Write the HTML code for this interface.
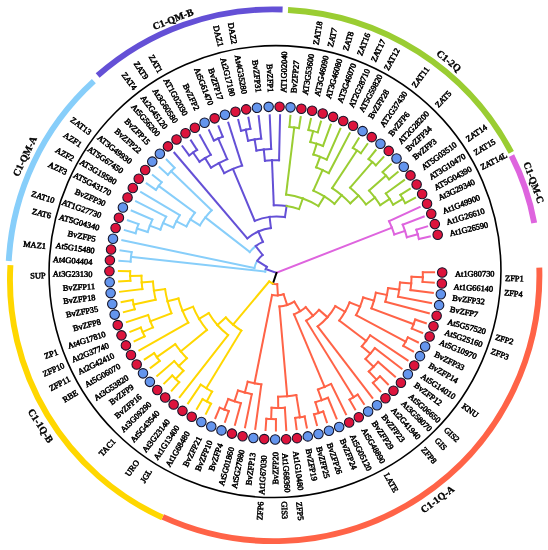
<!DOCTYPE html><html><head><meta charset="utf-8"><style>html,body{margin:0;padding:0;background:#fff;}svg{display:block;}</style></head><body><svg xmlns="http://www.w3.org/2000/svg" width="548" height="550" viewBox="0 0 548 550">
<rect width="548" height="550" fill="#fff"/>
<path d="M539.29,267.57 A265.8,265.8 0 0 1 162.76,516.89" fill="none" stroke="#ff6347" stroke-width="5.9"/>
<path d="M162.48,517.51 A260.49,260.49 0 0 1 10.42,265.08" fill="none" stroke="#ffd700" stroke-width="5.9"/>
<path d="M8.76,260.99 A262.0,262.0 0 0 1 93.84,81.13" fill="none" stroke="#87cefa" stroke-width="5.9"/>
<path d="M97.66,75.54 A264.2,264.2 0 0 1 282.59,9.55" fill="none" stroke="#6450d6" stroke-width="5.9"/>
<path d="M288.01,10.03 A268.9,268.9 0 0 1 511.27,152.34" fill="none" stroke="#9acd32" stroke-width="5.9"/>
<path d="M511.50,155.65 A243.9,243.9 0 0 1 534.21,223.00" fill="none" stroke="#de64de" stroke-width="5.9"/>
<ellipse cx="275.0" cy="271.6" rx="226.5" ry="225.4" transform="rotate(-45 275.0 271.6)" fill="none" stroke="#000" stroke-width="1.6"/>
<g stroke-linecap="square"><line x1="276.41" y1="272.77" x2="265.78" y2="269.08" stroke="#6450d6" stroke-width="2.0"/><path d="M265.78,269.08 A11.35,11.35 0 0 0 265.22,271.56" fill="none" stroke="#87cefa" stroke-width="2.0"/><line x1="265.22" y1="271.56" x2="131.03" y2="256.80" stroke="#87cefa" stroke-width="2.0"/><path d="M131.03,256.80 A146.35,146.35 0 0 0 130.58,261.59" fill="none" stroke="#87cefa" stroke-width="2.0"/><line x1="130.58" y1="261.59" x2="119.36" y2="260.73" stroke="#87cefa" stroke-width="2.0"/><path d="M131.03,256.80 A146.35,146.35 0 0 1 131.63,252.03" fill="none" stroke="#87cefa" stroke-width="2.0"/><line x1="131.63" y1="252.03" x2="120.50" y2="250.43" stroke="#87cefa" stroke-width="2.0"/><path d="M265.78,269.08 A11.35,11.35 0 0 1 266.87,266.79" fill="none" stroke="#6450d6" stroke-width="2.0"/><line x1="266.87" y1="266.79" x2="257.33" y2="260.82" stroke="#6450d6" stroke-width="2.0"/><path d="M257.33,260.82 A22.60,22.60 0 0 0 254.39,268.13" fill="none" stroke="#87cefa" stroke-width="2.0"/><line x1="254.39" y1="268.13" x2="122.30" y2="240.23" stroke="#87cefa" stroke-width="2.0"/><path d="M257.33,260.82 A22.60,22.60 0 0 1 262.61,254.97" fill="none" stroke="#6450d6" stroke-width="2.0"/><line x1="262.61" y1="254.97" x2="255.70" y2="246.10" stroke="#6450d6" stroke-width="2.0"/><path d="M255.70,246.10 A33.85,33.85 0 0 0 249.78,252.01" fill="none" stroke="#87cefa" stroke-width="2.0"/><line x1="249.78" y1="252.01" x2="205.39" y2="217.47" stroke="#87cefa" stroke-width="2.0"/><path d="M205.39,217.47 A90.10,90.10 0 0 0 199.94,225.29" fill="none" stroke="#87cefa" stroke-width="2.0"/><line x1="199.94" y1="225.29" x2="190.38" y2="219.36" stroke="#87cefa" stroke-width="2.0"/><path d="M190.38,219.36 A101.35,101.35 0 0 0 186.38,226.42" fill="none" stroke="#87cefa" stroke-width="2.0"/><line x1="186.38" y1="226.42" x2="176.38" y2="221.28" stroke="#87cefa" stroke-width="2.0"/><path d="M176.38,221.28 A112.60,112.60 0 0 0 173.40,227.54" fill="none" stroke="#87cefa" stroke-width="2.0"/><line x1="173.40" y1="227.54" x2="163.10" y2="223.02" stroke="#87cefa" stroke-width="2.0"/><path d="M163.10,223.02 A123.85,123.85 0 0 0 160.42,229.62" fill="none" stroke="#87cefa" stroke-width="2.0"/><line x1="160.42" y1="229.62" x2="149.88" y2="225.70" stroke="#87cefa" stroke-width="2.0"/><path d="M149.88,225.70 A135.10,135.10 0 0 0 147.71,232.00" fill="none" stroke="#87cefa" stroke-width="2.0"/><line x1="147.71" y1="232.00" x2="136.98" y2="228.60" stroke="#87cefa" stroke-width="2.0"/><path d="M136.98,228.60 A146.35,146.35 0 0 0 135.61,233.21" fill="none" stroke="#87cefa" stroke-width="2.0"/><line x1="135.61" y1="233.21" x2="124.78" y2="230.17" stroke="#87cefa" stroke-width="2.0"/><path d="M136.98,228.60 A146.35,146.35 0 0 1 138.51,224.04" fill="none" stroke="#87cefa" stroke-width="2.0"/><line x1="138.51" y1="224.04" x2="127.90" y2="220.29" stroke="#87cefa" stroke-width="2.0"/><path d="M149.88,225.70 A135.10,135.10 0 0 1 152.35,219.52" fill="none" stroke="#87cefa" stroke-width="2.0"/><line x1="152.35" y1="219.52" x2="131.68" y2="210.64" stroke="#87cefa" stroke-width="2.0"/><path d="M163.10,223.02 A123.85,123.85 0 0 1 166.15,216.58" fill="none" stroke="#87cefa" stroke-width="2.0"/><line x1="166.15" y1="216.58" x2="136.07" y2="201.26" stroke="#87cefa" stroke-width="2.0"/><path d="M176.38,221.28 A112.60,112.60 0 0 1 179.74,215.21" fill="none" stroke="#87cefa" stroke-width="2.0"/><line x1="179.74" y1="215.21" x2="141.08" y2="192.19" stroke="#87cefa" stroke-width="2.0"/><path d="M190.38,219.36 A101.35,101.35 0 0 1 194.94,212.64" fill="none" stroke="#87cefa" stroke-width="2.0"/><line x1="194.94" y1="212.64" x2="158.73" y2="185.92" stroke="#87cefa" stroke-width="2.0"/><path d="M158.73,185.92 A146.35,146.35 0 0 0 155.93,189.84" fill="none" stroke="#87cefa" stroke-width="2.0"/><line x1="155.93" y1="189.84" x2="146.67" y2="183.46" stroke="#87cefa" stroke-width="2.0"/><path d="M158.73,185.92 A146.35,146.35 0 0 1 161.64,182.10" fill="none" stroke="#87cefa" stroke-width="2.0"/><line x1="161.64" y1="182.10" x2="152.82" y2="175.13" stroke="#87cefa" stroke-width="2.0"/><path d="M205.39,217.47 A90.10,90.10 0 0 1 211.63,210.27" fill="none" stroke="#87cefa" stroke-width="2.0"/><line x1="211.63" y1="210.27" x2="171.13" y2="171.23" stroke="#87cefa" stroke-width="2.0"/><path d="M171.13,171.23 A146.35,146.35 0 0 0 167.85,174.75" fill="none" stroke="#87cefa" stroke-width="2.0"/><line x1="167.85" y1="174.75" x2="159.50" y2="167.21" stroke="#87cefa" stroke-width="2.0"/><path d="M171.13,171.23 A146.35,146.35 0 0 1 174.53,167.82" fill="none" stroke="#87cefa" stroke-width="2.0"/><line x1="174.53" y1="167.82" x2="166.69" y2="159.75" stroke="#87cefa" stroke-width="2.0"/><path d="M255.70,246.10 A33.85,33.85 0 0 1 262.88,241.81" fill="none" stroke="#6450d6" stroke-width="2.0"/><line x1="262.88" y1="241.81" x2="258.35" y2="231.51" stroke="#6450d6" stroke-width="2.0"/><path d="M258.35,231.51 A45.10,45.10 0 0 0 247.27,238.45" fill="none" stroke="#6450d6" stroke-width="2.0"/><line x1="247.27" y1="238.45" x2="174.36" y2="152.78" stroke="#6450d6" stroke-width="2.0"/><path d="M258.35,231.51 A45.10,45.10 0 0 1 270.95,228.04" fill="none" stroke="#6450d6" stroke-width="2.0"/><line x1="270.95" y1="228.04" x2="269.57" y2="216.88" stroke="#6450d6" stroke-width="2.0"/><path d="M269.57,216.88 A56.35,56.35 0 0 0 254.72,220.83" fill="none" stroke="#6450d6" stroke-width="2.0"/><line x1="254.72" y1="220.83" x2="232.97" y2="168.95" stroke="#6450d6" stroke-width="2.0"/><path d="M232.97,168.95 A112.60,112.60 0 0 0 224.18,173.09" fill="none" stroke="#6450d6" stroke-width="2.0"/><line x1="224.18" y1="173.09" x2="218.96" y2="163.13" stroke="#6450d6" stroke-width="2.0"/><path d="M218.96,163.13 A123.85,123.85 0 0 0 211.01,167.68" fill="none" stroke="#6450d6" stroke-width="2.0"/><line x1="211.01" y1="167.68" x2="205.06" y2="158.13" stroke="#6450d6" stroke-width="2.0"/><path d="M205.06,158.13 A135.10,135.10 0 0 0 199.49,161.79" fill="none" stroke="#6450d6" stroke-width="2.0"/><line x1="199.49" y1="161.79" x2="193.08" y2="152.55" stroke="#6450d6" stroke-width="2.0"/><path d="M193.08,152.55 A146.35,146.35 0 0 0 189.17,155.36" fill="none" stroke="#6450d6" stroke-width="2.0"/><line x1="189.17" y1="155.36" x2="182.46" y2="146.33" stroke="#6450d6" stroke-width="2.0"/><path d="M193.08,152.55 A146.35,146.35 0 0 1 197.08,149.87" fill="none" stroke="#6450d6" stroke-width="2.0"/><line x1="197.08" y1="149.87" x2="190.97" y2="140.43" stroke="#6450d6" stroke-width="2.0"/><path d="M205.06,158.13 A135.10,135.10 0 0 1 210.80,154.75" fill="none" stroke="#6450d6" stroke-width="2.0"/><line x1="210.80" y1="154.75" x2="199.86" y2="135.09" stroke="#6450d6" stroke-width="2.0"/><path d="M218.96,163.13 A123.85,123.85 0 0 1 227.22,159.18" fill="none" stroke="#6450d6" stroke-width="2.0"/><line x1="227.22" y1="159.18" x2="218.26" y2="138.54" stroke="#6450d6" stroke-width="2.0"/><path d="M218.26,138.54 A146.35,146.35 0 0 0 213.88,140.52" fill="none" stroke="#6450d6" stroke-width="2.0"/><line x1="213.88" y1="140.52" x2="209.07" y2="130.35" stroke="#6450d6" stroke-width="2.0"/><path d="M218.26,138.54 A146.35,146.35 0 0 1 222.71,136.69" fill="none" stroke="#6450d6" stroke-width="2.0"/><line x1="222.71" y1="136.69" x2="218.57" y2="126.23" stroke="#6450d6" stroke-width="2.0"/><path d="M232.97,168.95 A112.60,112.60 0 0 1 242.08,165.59" fill="none" stroke="#6450d6" stroke-width="2.0"/><line x1="242.08" y1="165.59" x2="228.33" y2="122.74" stroke="#6450d6" stroke-width="2.0"/><path d="M269.57,216.88 A56.35,56.35 0 0 1 284.94,217.09" fill="none" stroke="#6450d6" stroke-width="2.0"/><line x1="284.94" y1="217.09" x2="286.62" y2="205.96" stroke="#6450d6" stroke-width="2.0"/><path d="M286.62,205.96 A67.60,67.60 0 0 0 273.79,205.25" fill="none" stroke="#6450d6" stroke-width="2.0"/><line x1="273.79" y1="205.25" x2="271.99" y2="160.29" stroke="#6450d6" stroke-width="2.0"/><path d="M271.99,160.29 A112.60,112.60 0 0 0 264.94,160.80" fill="none" stroke="#6450d6" stroke-width="2.0"/><line x1="264.94" y1="160.80" x2="263.78" y2="149.60" stroke="#6450d6" stroke-width="2.0"/><path d="M263.78,149.60 A123.85,123.85 0 0 0 256.44,150.59" fill="none" stroke="#6450d6" stroke-width="2.0"/><line x1="256.44" y1="150.59" x2="254.62" y2="139.48" stroke="#6450d6" stroke-width="2.0"/><path d="M254.62,139.48 A135.10,135.10 0 0 0 248.07,140.72" fill="none" stroke="#6450d6" stroke-width="2.0"/><line x1="248.07" y1="140.72" x2="245.71" y2="129.73" stroke="#6450d6" stroke-width="2.0"/><path d="M245.71,129.73 A146.35,146.35 0 0 0 241.02,130.82" fill="none" stroke="#6450d6" stroke-width="2.0"/><line x1="241.02" y1="130.82" x2="238.29" y2="119.90" stroke="#6450d6" stroke-width="2.0"/><path d="M245.71,129.73 A146.35,146.35 0 0 1 250.43,128.79" fill="none" stroke="#6450d6" stroke-width="2.0"/><line x1="250.43" y1="128.79" x2="248.42" y2="117.72" stroke="#6450d6" stroke-width="2.0"/><path d="M254.62,139.48 A135.10,135.10 0 0 1 261.22,138.57" fill="none" stroke="#6450d6" stroke-width="2.0"/><line x1="261.22" y1="138.57" x2="258.67" y2="116.21" stroke="#6450d6" stroke-width="2.0"/><path d="M263.78,149.60 A123.85,123.85 0 0 1 271.17,149.06" fill="none" stroke="#6450d6" stroke-width="2.0"/><line x1="271.17" y1="149.06" x2="269.72" y2="115.35" stroke="#6450d6" stroke-width="2.0"/><path d="M271.99,160.29 A112.60,112.60 0 0 1 279.06,160.23" fill="none" stroke="#6450d6" stroke-width="2.0"/><line x1="279.06" y1="160.23" x2="280.08" y2="115.24" stroke="#6450d6" stroke-width="2.0"/><path d="M286.62,205.96 A67.60,67.60 0 0 1 299.09,209.09" fill="none" stroke="#9acd32" stroke-width="2.0"/><line x1="299.09" y1="209.09" x2="302.85" y2="198.48" stroke="#9acd32" stroke-width="2.0"/><path d="M302.85,198.48 A78.85,78.85 0 0 0 286.05,194.53" fill="none" stroke="#9acd32" stroke-width="2.0"/><line x1="286.05" y1="194.53" x2="294.22" y2="127.53" stroke="#9acd32" stroke-width="2.0"/><path d="M294.22,127.53 A146.35,146.35 0 0 0 289.43,127.02" fill="none" stroke="#9acd32" stroke-width="2.0"/><line x1="289.43" y1="127.02" x2="290.43" y2="115.82" stroke="#9acd32" stroke-width="2.0"/><path d="M294.22,127.53 A146.35,146.35 0 0 1 298.98,128.19" fill="none" stroke="#9acd32" stroke-width="2.0"/><line x1="298.98" y1="128.19" x2="300.71" y2="117.07" stroke="#9acd32" stroke-width="2.0"/><path d="M302.85,198.48 A78.85,78.85 0 0 1 318.39,206.00" fill="none" stroke="#9acd32" stroke-width="2.0"/><line x1="318.39" y1="206.00" x2="324.36" y2="196.46" stroke="#9acd32" stroke-width="2.0"/><path d="M324.36,196.46 A90.10,90.10 0 0 0 313.35,190.58" fill="none" stroke="#9acd32" stroke-width="2.0"/><line x1="313.35" y1="190.58" x2="322.55" y2="170.05" stroke="#9acd32" stroke-width="2.0"/><path d="M322.55,170.05 A112.60,112.60 0 0 0 316.13,167.41" fill="none" stroke="#9acd32" stroke-width="2.0"/><line x1="316.13" y1="167.41" x2="320.09" y2="156.88" stroke="#9acd32" stroke-width="2.0"/><path d="M320.09,156.88 A123.85,123.85 0 0 0 313.36,154.56" fill="none" stroke="#9acd32" stroke-width="2.0"/><line x1="313.36" y1="154.56" x2="316.70" y2="143.82" stroke="#9acd32" stroke-width="2.0"/><path d="M316.70,143.82 A135.10,135.10 0 0 0 310.30,142.00" fill="none" stroke="#9acd32" stroke-width="2.0"/><line x1="310.30" y1="142.00" x2="313.11" y2="131.10" stroke="#9acd32" stroke-width="2.0"/><path d="M313.11,131.10 A146.35,146.35 0 0 0 308.43,129.98" fill="none" stroke="#9acd32" stroke-width="2.0"/><line x1="308.43" y1="129.98" x2="310.89" y2="119.00" stroke="#9acd32" stroke-width="2.0"/><path d="M313.11,131.10 A146.35,146.35 0 0 1 317.75,132.38" fill="none" stroke="#9acd32" stroke-width="2.0"/><line x1="317.75" y1="132.38" x2="320.92" y2="121.59" stroke="#9acd32" stroke-width="2.0"/><path d="M316.70,143.82 A135.10,135.10 0 0 1 323.01,145.96" fill="none" stroke="#9acd32" stroke-width="2.0"/><line x1="323.01" y1="145.96" x2="330.76" y2="124.83" stroke="#9acd32" stroke-width="2.0"/><path d="M320.09,156.88 A123.85,123.85 0 0 1 326.69,159.57" fill="none" stroke="#9acd32" stroke-width="2.0"/><line x1="326.69" y1="159.57" x2="340.36" y2="128.72" stroke="#9acd32" stroke-width="2.0"/><path d="M322.55,170.05 A112.60,112.60 0 0 1 328.79,173.08" fill="none" stroke="#9acd32" stroke-width="2.0"/><line x1="328.79" y1="173.08" x2="349.69" y2="133.23" stroke="#9acd32" stroke-width="2.0"/><path d="M324.36,196.46 A90.10,90.10 0 0 1 334.46,203.81" fill="none" stroke="#9acd32" stroke-width="2.0"/><line x1="334.46" y1="203.81" x2="341.69" y2="195.20" stroke="#9acd32" stroke-width="2.0"/><path d="M341.69,195.20 A101.35,101.35 0 0 0 332.18,188.11" fill="none" stroke="#9acd32" stroke-width="2.0"/><line x1="332.18" y1="188.11" x2="356.90" y2="150.51" stroke="#9acd32" stroke-width="2.0"/><path d="M356.90,150.51 A146.35,146.35 0 0 0 352.84,147.94" fill="none" stroke="#9acd32" stroke-width="2.0"/><line x1="352.84" y1="147.94" x2="358.70" y2="138.34" stroke="#9acd32" stroke-width="2.0"/><path d="M356.90,150.51 A146.35,146.35 0 0 1 360.88,153.22" fill="none" stroke="#9acd32" stroke-width="2.0"/><line x1="360.88" y1="153.22" x2="367.36" y2="144.03" stroke="#9acd32" stroke-width="2.0"/><path d="M341.69,195.20 A101.35,101.35 0 0 1 350.31,203.35" fill="none" stroke="#9acd32" stroke-width="2.0"/><line x1="350.31" y1="203.35" x2="358.51" y2="195.64" stroke="#9acd32" stroke-width="2.0"/><path d="M358.51,195.64 A112.60,112.60 0 0 0 350.16,187.64" fill="none" stroke="#9acd32" stroke-width="2.0"/><line x1="350.16" y1="187.64" x2="372.24" y2="162.11" stroke="#9acd32" stroke-width="2.0"/><path d="M372.24,162.11 A146.35,146.35 0 0 0 368.55,159.02" fill="none" stroke="#9acd32" stroke-width="2.0"/><line x1="368.55" y1="159.02" x2="375.63" y2="150.28" stroke="#9acd32" stroke-width="2.0"/><path d="M372.24,162.11 A146.35,146.35 0 0 1 375.83,165.32" fill="none" stroke="#9acd32" stroke-width="2.0"/><line x1="375.83" y1="165.32" x2="383.46" y2="157.05" stroke="#9acd32" stroke-width="2.0"/><path d="M358.51,195.64 A112.60,112.60 0 0 1 365.99,204.46" fill="none" stroke="#9acd32" stroke-width="2.0"/><line x1="365.99" y1="204.46" x2="374.93" y2="197.63" stroke="#9acd32" stroke-width="2.0"/><path d="M374.93,197.63 A123.85,123.85 0 0 0 369.10,190.56" fill="none" stroke="#9acd32" stroke-width="2.0"/><line x1="369.10" y1="190.56" x2="385.93" y2="175.62" stroke="#9acd32" stroke-width="2.0"/><path d="M385.93,175.62 A146.35,146.35 0 0 0 382.67,172.08" fill="none" stroke="#9acd32" stroke-width="2.0"/><line x1="382.67" y1="172.08" x2="390.84" y2="164.33" stroke="#9acd32" stroke-width="2.0"/><path d="M385.93,175.62 A146.35,146.35 0 0 1 389.06,179.27" fill="none" stroke="#9acd32" stroke-width="2.0"/><line x1="389.06" y1="179.27" x2="397.71" y2="172.08" stroke="#9acd32" stroke-width="2.0"/><path d="M374.93,197.63 A123.85,123.85 0 0 1 380.21,205.11" fill="none" stroke="#9acd32" stroke-width="2.0"/><line x1="380.21" y1="205.11" x2="389.64" y2="198.96" stroke="#9acd32" stroke-width="2.0"/><path d="M389.64,198.96 A135.10,135.10 0 0 0 385.86,193.47" fill="none" stroke="#9acd32" stroke-width="2.0"/><line x1="385.86" y1="193.47" x2="404.07" y2="180.26" stroke="#9acd32" stroke-width="2.0"/><path d="M389.64,198.96 A135.10,135.10 0 0 1 393.14,204.63" fill="none" stroke="#9acd32" stroke-width="2.0"/><line x1="393.14" y1="204.63" x2="402.85" y2="198.95" stroke="#9acd32" stroke-width="2.0"/><path d="M402.85,198.95 A146.35,146.35 0 0 0 400.35,194.84" fill="none" stroke="#9acd32" stroke-width="2.0"/><line x1="400.35" y1="194.84" x2="409.87" y2="188.84" stroke="#9acd32" stroke-width="2.0"/><path d="M402.85,198.95 A146.35,146.35 0 0 1 405.21,203.14" fill="none" stroke="#9acd32" stroke-width="2.0"/><line x1="405.21" y1="203.14" x2="415.10" y2="197.79" stroke="#9acd32" stroke-width="2.0"/><line x1="276.59" y1="272.76" x2="391.84" y2="227.69" stroke="#de64de" stroke-width="2.0"/><path d="M391.84,227.69 A123.85,123.85 0 0 0 389.06,221.13" fill="none" stroke="#de64de" stroke-width="2.0"/><line x1="389.06" y1="221.13" x2="419.73" y2="207.06" stroke="#de64de" stroke-width="2.0"/><path d="M391.84,227.69 A123.85,123.85 0 0 1 394.25,234.40" fill="none" stroke="#de64de" stroke-width="2.0"/><line x1="394.25" y1="234.40" x2="404.94" y2="230.91" stroke="#de64de" stroke-width="2.0"/><path d="M404.94,230.91 A135.10,135.10 0 0 0 402.72,224.63" fill="none" stroke="#de64de" stroke-width="2.0"/><line x1="402.72" y1="224.63" x2="423.74" y2="216.61" stroke="#de64de" stroke-width="2.0"/><path d="M404.94,230.91 A135.10,135.10 0 0 1 406.85,237.29" fill="none" stroke="#de64de" stroke-width="2.0"/><line x1="406.85" y1="237.29" x2="417.71" y2="234.34" stroke="#de64de" stroke-width="2.0"/><path d="M417.71,234.34 A146.35,146.35 0 0 0 416.36,229.72" fill="none" stroke="#de64de" stroke-width="2.0"/><line x1="416.36" y1="229.72" x2="427.12" y2="226.40" stroke="#de64de" stroke-width="2.0"/><path d="M417.71,234.34 A146.35,146.35 0 0 1 418.89,239.00" fill="none" stroke="#de64de" stroke-width="2.0"/><line x1="418.89" y1="239.00" x2="429.84" y2="236.40" stroke="#de64de" stroke-width="2.0"/><line x1="276.47" y1="272.89" x2="272.95" y2="283.58" stroke="#000" stroke-width="2.0"/><path d="M272.95,283.58 A11.35,11.35 0 0 0 277.19,284.13" fill="none" stroke="#ff6347" stroke-width="2.0"/><line x1="277.19" y1="284.13" x2="277.88" y2="295.36" stroke="#ff6347" stroke-width="2.0"/><path d="M277.88,295.36 A22.60,22.60 0 0 0 283.59,294.26" fill="none" stroke="#ff6347" stroke-width="2.0"/><line x1="283.59" y1="294.26" x2="287.12" y2="304.94" stroke="#ff6347" stroke-width="2.0"/><path d="M287.12,304.94 A33.85,33.85 0 0 0 294.24,301.63" fill="none" stroke="#ff6347" stroke-width="2.0"/><line x1="294.24" y1="301.63" x2="300.14" y2="311.21" stroke="#ff6347" stroke-width="2.0"/><path d="M300.14,311.21 A45.10,45.10 0 0 0 305.71,307.16" fill="none" stroke="#ff6347" stroke-width="2.0"/><line x1="305.71" y1="307.16" x2="313.00" y2="315.73" stroke="#ff6347" stroke-width="2.0"/><path d="M313.00,315.73 A56.35,56.35 0 0 0 318.98,309.83" fill="none" stroke="#ff6347" stroke-width="2.0"/><line x1="318.98" y1="309.83" x2="327.46" y2="317.22" stroke="#ff6347" stroke-width="2.0"/><path d="M327.46,317.22 A67.60,67.60 0 0 0 335.27,306.21" fill="none" stroke="#ff6347" stroke-width="2.0"/><line x1="335.27" y1="306.21" x2="345.05" y2="311.76" stroke="#ff6347" stroke-width="2.0"/><path d="M345.05,311.76 A78.85,78.85 0 0 0 349.61,302.33" fill="none" stroke="#ff6347" stroke-width="2.0"/><line x1="349.61" y1="302.33" x2="360.04" y2="306.54" stroke="#ff6347" stroke-width="2.0"/><path d="M360.04,306.54 A90.10,90.10 0 0 0 363.14,297.53" fill="none" stroke="#ff6347" stroke-width="2.0"/><line x1="363.14" y1="297.53" x2="373.96" y2="300.61" stroke="#ff6347" stroke-width="2.0"/><path d="M373.96,300.61 A101.35,101.35 0 0 0 375.87,292.72" fill="none" stroke="#ff6347" stroke-width="2.0"/><line x1="375.87" y1="292.72" x2="386.90" y2="294.94" stroke="#ff6347" stroke-width="2.0"/><path d="M386.90,294.94 A112.60,112.60 0 0 0 388.06,288.09" fill="none" stroke="#ff6347" stroke-width="2.0"/><line x1="388.06" y1="288.09" x2="399.20" y2="289.62" stroke="#ff6347" stroke-width="2.0"/><path d="M399.20,289.62 A123.85,123.85 0 0 0 399.97,282.54" fill="none" stroke="#ff6347" stroke-width="2.0"/><line x1="399.97" y1="282.54" x2="411.18" y2="283.42" stroke="#ff6347" stroke-width="2.0"/><path d="M411.18,283.42 A135.10,135.10 0 0 0 411.54,276.77" fill="none" stroke="#ff6347" stroke-width="2.0"/><line x1="411.54" y1="276.77" x2="422.79" y2="277.10" stroke="#ff6347" stroke-width="2.0"/><path d="M422.79,277.10 A146.35,146.35 0 0 0 422.85,272.29" fill="none" stroke="#ff6347" stroke-width="2.0"/><line x1="422.85" y1="272.29" x2="434.10" y2="272.25" stroke="#ff6347" stroke-width="2.0"/><path d="M422.79,277.10 A146.35,146.35 0 0 1 422.57,281.91" fill="none" stroke="#ff6347" stroke-width="2.0"/><line x1="422.57" y1="281.91" x2="433.79" y2="282.61" stroke="#ff6347" stroke-width="2.0"/><path d="M411.18,283.42 A135.10,135.10 0 0 1 410.49,290.05" fill="none" stroke="#ff6347" stroke-width="2.0"/><line x1="410.49" y1="290.05" x2="432.81" y2="292.92" stroke="#ff6347" stroke-width="2.0"/><path d="M399.20,289.62 A123.85,123.85 0 0 1 398.03,296.65" fill="none" stroke="#ff6347" stroke-width="2.0"/><line x1="398.03" y1="296.65" x2="431.15" y2="303.15" stroke="#ff6347" stroke-width="2.0"/><path d="M386.90,294.94 A112.60,112.60 0 0 1 385.33,301.69" fill="none" stroke="#ff6347" stroke-width="2.0"/><line x1="385.33" y1="301.69" x2="428.82" y2="313.24" stroke="#ff6347" stroke-width="2.0"/><path d="M373.96,300.61 A101.35,101.35 0 0 1 371.42,308.33" fill="none" stroke="#ff6347" stroke-width="2.0"/><line x1="371.42" y1="308.33" x2="413.56" y2="324.10" stroke="#ff6347" stroke-width="2.0"/><path d="M413.56,324.10 A146.35,146.35 0 0 0 415.18,319.57" fill="none" stroke="#ff6347" stroke-width="2.0"/><line x1="415.18" y1="319.57" x2="425.84" y2="323.16" stroke="#ff6347" stroke-width="2.0"/><path d="M413.56,324.10 A146.35,146.35 0 0 1 411.80,328.58" fill="none" stroke="#ff6347" stroke-width="2.0"/><line x1="411.80" y1="328.58" x2="422.20" y2="332.87" stroke="#ff6347" stroke-width="2.0"/><path d="M360.04,306.54 A90.10,90.10 0 0 1 356.01,315.17" fill="none" stroke="#ff6347" stroke-width="2.0"/><line x1="356.01" y1="315.17" x2="405.65" y2="341.63" stroke="#ff6347" stroke-width="2.0"/><path d="M405.65,341.63 A146.35,146.35 0 0 0 407.85,337.35" fill="none" stroke="#ff6347" stroke-width="2.0"/><line x1="407.85" y1="337.35" x2="417.94" y2="342.31" stroke="#ff6347" stroke-width="2.0"/><path d="M405.65,341.63 A146.35,146.35 0 0 1 403.32,345.84" fill="none" stroke="#ff6347" stroke-width="2.0"/><line x1="403.32" y1="345.84" x2="413.07" y2="351.45" stroke="#ff6347" stroke-width="2.0"/><path d="M345.05,311.76 A78.85,78.85 0 0 1 339.28,320.51" fill="none" stroke="#ff6347" stroke-width="2.0"/><line x1="339.28" y1="320.51" x2="366.15" y2="340.94" stroke="#ff6347" stroke-width="2.0"/><path d="M366.15,340.94 A112.60,112.60 0 0 0 370.17,335.28" fill="none" stroke="#ff6347" stroke-width="2.0"/><line x1="370.17" y1="335.28" x2="407.61" y2="360.26" stroke="#ff6347" stroke-width="2.0"/><path d="M366.15,340.94 A112.60,112.60 0 0 1 361.78,346.33" fill="none" stroke="#ff6347" stroke-width="2.0"/><line x1="361.78" y1="346.33" x2="370.30" y2="353.67" stroke="#ff6347" stroke-width="2.0"/><path d="M370.30,353.67 A123.85,123.85 0 0 0 374.79,348.15" fill="none" stroke="#ff6347" stroke-width="2.0"/><line x1="374.79" y1="348.15" x2="401.58" y2="368.68" stroke="#ff6347" stroke-width="2.0"/><path d="M370.30,353.67 A123.85,123.85 0 0 1 365.49,358.93" fill="none" stroke="#ff6347" stroke-width="2.0"/><line x1="365.49" y1="358.93" x2="373.58" y2="366.76" stroke="#ff6347" stroke-width="2.0"/><path d="M373.58,366.76 A135.10,135.10 0 0 0 378.09,361.86" fill="none" stroke="#ff6347" stroke-width="2.0"/><line x1="378.09" y1="361.86" x2="395.01" y2="376.69" stroke="#ff6347" stroke-width="2.0"/><path d="M373.58,366.76 A135.10,135.10 0 0 1 368.83,371.43" fill="none" stroke="#ff6347" stroke-width="2.0"/><line x1="368.83" y1="371.43" x2="376.52" y2="379.64" stroke="#ff6347" stroke-width="2.0"/><path d="M376.52,379.64 A146.35,146.35 0 0 0 379.97,376.30" fill="none" stroke="#ff6347" stroke-width="2.0"/><line x1="379.97" y1="376.30" x2="387.93" y2="384.25" stroke="#ff6347" stroke-width="2.0"/><path d="M376.52,379.64 A146.35,146.35 0 0 1 372.95,382.87" fill="none" stroke="#ff6347" stroke-width="2.0"/><line x1="372.95" y1="382.87" x2="380.36" y2="391.33" stroke="#ff6347" stroke-width="2.0"/><path d="M327.46,317.22 A67.60,67.60 0 0 1 317.61,326.46" fill="none" stroke="#ff6347" stroke-width="2.0"/><line x1="317.61" y1="326.46" x2="372.35" y2="397.90" stroke="#ff6347" stroke-width="2.0"/><path d="M313.00,315.73 A56.35,56.35 0 0 1 306.20,320.69" fill="none" stroke="#ff6347" stroke-width="2.0"/><line x1="306.20" y1="320.69" x2="353.64" y2="397.17" stroke="#ff6347" stroke-width="2.0"/><path d="M353.64,397.17 A146.35,146.35 0 0 0 357.68,394.57" fill="none" stroke="#ff6347" stroke-width="2.0"/><line x1="357.68" y1="394.57" x2="363.92" y2="403.93" stroke="#ff6347" stroke-width="2.0"/><path d="M353.64,397.17 A146.35,146.35 0 0 1 349.51,399.64" fill="none" stroke="#ff6347" stroke-width="2.0"/><line x1="349.51" y1="399.64" x2="355.12" y2="409.39" stroke="#ff6347" stroke-width="2.0"/><path d="M300.14,311.21 A45.10,45.10 0 0 1 294.02,314.36" fill="none" stroke="#ff6347" stroke-width="2.0"/><line x1="294.02" y1="314.36" x2="324.62" y2="386.92" stroke="#ff6347" stroke-width="2.0"/><path d="M324.62,386.92 A123.85,123.85 0 0 0 331.10,383.97" fill="none" stroke="#ff6347" stroke-width="2.0"/><line x1="331.10" y1="383.97" x2="345.98" y2="414.26" stroke="#ff6347" stroke-width="2.0"/><path d="M324.62,386.92 A123.85,123.85 0 0 1 317.97,389.50" fill="none" stroke="#ff6347" stroke-width="2.0"/><line x1="317.97" y1="389.50" x2="321.74" y2="400.10" stroke="#ff6347" stroke-width="2.0"/><path d="M321.74,400.10 A135.10,135.10 0 0 0 327.96,397.72" fill="none" stroke="#ff6347" stroke-width="2.0"/><line x1="327.96" y1="397.72" x2="336.53" y2="418.52" stroke="#ff6347" stroke-width="2.0"/><path d="M321.74,400.10 A135.10,135.10 0 0 1 315.41,402.18" fill="none" stroke="#ff6347" stroke-width="2.0"/><line x1="315.41" y1="402.18" x2="318.65" y2="412.95" stroke="#ff6347" stroke-width="2.0"/><path d="M318.65,412.95 A146.35,146.35 0 0 0 323.23,411.49" fill="none" stroke="#ff6347" stroke-width="2.0"/><line x1="323.23" y1="411.49" x2="326.83" y2="422.15" stroke="#ff6347" stroke-width="2.0"/><path d="M318.65,412.95 A146.35,146.35 0 0 1 314.02,414.26" fill="none" stroke="#ff6347" stroke-width="2.0"/><line x1="314.02" y1="414.26" x2="316.91" y2="425.13" stroke="#ff6347" stroke-width="2.0"/><path d="M287.12,304.94 A33.85,33.85 0 0 1 279.43,306.52" fill="none" stroke="#ff6347" stroke-width="2.0"/><line x1="279.43" y1="306.52" x2="287.22" y2="396.18" stroke="#ff6347" stroke-width="2.0"/><path d="M287.22,396.18 A123.85,123.85 0 0 0 296.31,395.06" fill="none" stroke="#ff6347" stroke-width="2.0"/><line x1="296.31" y1="395.06" x2="299.91" y2="417.27" stroke="#ff6347" stroke-width="2.0"/><path d="M299.91,417.27 A146.35,146.35 0 0 0 304.65,416.42" fill="none" stroke="#ff6347" stroke-width="2.0"/><line x1="304.65" y1="416.42" x2="306.81" y2="427.46" stroke="#ff6347" stroke-width="2.0"/><path d="M299.91,417.27 A146.35,146.35 0 0 1 295.15,417.96" fill="none" stroke="#ff6347" stroke-width="2.0"/><line x1="295.15" y1="417.96" x2="296.58" y2="429.12" stroke="#ff6347" stroke-width="2.0"/><path d="M287.22,396.18 A123.85,123.85 0 0 1 278.07,396.64" fill="none" stroke="#ff6347" stroke-width="2.0"/><line x1="278.07" y1="396.64" x2="278.22" y2="407.89" stroke="#ff6347" stroke-width="2.0"/><path d="M278.22,407.89 A135.10,135.10 0 0 0 284.87,407.64" fill="none" stroke="#ff6347" stroke-width="2.0"/><line x1="284.87" y1="407.64" x2="286.27" y2="430.10" stroke="#ff6347" stroke-width="2.0"/><path d="M278.22,407.89 A135.10,135.10 0 0 1 271.56,407.81" fill="none" stroke="#ff6347" stroke-width="2.0"/><line x1="271.56" y1="407.81" x2="271.15" y2="419.05" stroke="#ff6347" stroke-width="2.0"/><path d="M271.15,419.05 A146.35,146.35 0 0 0 275.96,419.15" fill="none" stroke="#ff6347" stroke-width="2.0"/><line x1="275.96" y1="419.15" x2="275.91" y2="430.40" stroke="#ff6347" stroke-width="2.0"/><path d="M271.15,419.05 A146.35,146.35 0 0 1 266.34,418.80" fill="none" stroke="#ff6347" stroke-width="2.0"/><line x1="266.34" y1="418.80" x2="265.56" y2="430.02" stroke="#ff6347" stroke-width="2.0"/><path d="M277.88,295.36 A22.60,22.60 0 0 1 272.08,294.96" fill="none" stroke="#ff6347" stroke-width="2.0"/><line x1="272.08" y1="294.96" x2="254.48" y2="383.23" stroke="#ff6347" stroke-width="2.0"/><path d="M254.48,383.23 A112.60,112.60 0 0 0 261.32,384.37" fill="none" stroke="#ff6347" stroke-width="2.0"/><line x1="261.32" y1="384.37" x2="255.25" y2="428.96" stroke="#ff6347" stroke-width="2.0"/><path d="M254.48,383.23 A112.60,112.60 0 0 1 247.72,381.66" fill="none" stroke="#ff6347" stroke-width="2.0"/><line x1="247.72" y1="381.66" x2="244.84" y2="392.53" stroke="#ff6347" stroke-width="2.0"/><path d="M244.84,392.53 A123.85,123.85 0 0 0 251.78,394.16" fill="none" stroke="#ff6347" stroke-width="2.0"/><line x1="251.78" y1="394.16" x2="245.04" y2="427.23" stroke="#ff6347" stroke-width="2.0"/><path d="M244.84,392.53 A123.85,123.85 0 0 1 238.01,390.52" fill="none" stroke="#ff6347" stroke-width="2.0"/><line x1="238.01" y1="390.52" x2="234.51" y2="401.21" stroke="#ff6347" stroke-width="2.0"/><path d="M234.51,401.21 A135.10,135.10 0 0 0 240.89,403.12" fill="none" stroke="#ff6347" stroke-width="2.0"/><line x1="240.89" y1="403.12" x2="234.96" y2="424.83" stroke="#ff6347" stroke-width="2.0"/><path d="M234.51,401.21 A135.10,135.10 0 0 1 228.23,398.98" fill="none" stroke="#ff6347" stroke-width="2.0"/><line x1="228.23" y1="398.98" x2="224.21" y2="409.49" stroke="#ff6347" stroke-width="2.0"/><path d="M224.21,409.49 A146.35,146.35 0 0 0 228.73,411.14" fill="none" stroke="#ff6347" stroke-width="2.0"/><line x1="228.73" y1="411.14" x2="225.06" y2="421.77" stroke="#ff6347" stroke-width="2.0"/><path d="M224.21,409.49 A146.35,146.35 0 0 1 219.75,407.70" fill="none" stroke="#ff6347" stroke-width="2.0"/><line x1="219.75" y1="407.70" x2="215.39" y2="418.07" stroke="#ff6347" stroke-width="2.0"/><path d="M272.95,283.58 A11.35,11.35 0 0 1 269.21,281.50" fill="none" stroke="#ffd700" stroke-width="2.0"/><line x1="269.21" y1="281.50" x2="233.11" y2="324.64" stroke="#ffd700" stroke-width="2.0"/><path d="M233.11,324.64 A67.60,67.60 0 0 0 241.39,330.57" fill="none" stroke="#ffd700" stroke-width="2.0"/><line x1="241.39" y1="330.57" x2="206.33" y2="388.25" stroke="#ffd700" stroke-width="2.0"/><path d="M206.33,388.25 A135.10,135.10 0 0 0 212.10,391.57" fill="none" stroke="#ffd700" stroke-width="2.0"/><line x1="212.10" y1="391.57" x2="206.74" y2="401.45" stroke="#ffd700" stroke-width="2.0"/><path d="M206.74,401.45 A146.35,146.35 0 0 0 211.01,403.68" fill="none" stroke="#ffd700" stroke-width="2.0"/><line x1="211.01" y1="403.68" x2="205.97" y2="413.74" stroke="#ffd700" stroke-width="2.0"/><path d="M206.74,401.45 A146.35,146.35 0 0 1 202.55,399.09" fill="none" stroke="#ffd700" stroke-width="2.0"/><line x1="202.55" y1="399.09" x2="196.87" y2="408.80" stroke="#ffd700" stroke-width="2.0"/><path d="M206.33,388.25 A135.10,135.10 0 0 1 200.72,384.65" fill="none" stroke="#ffd700" stroke-width="2.0"/><line x1="200.72" y1="384.65" x2="188.10" y2="403.27" stroke="#ffd700" stroke-width="2.0"/><path d="M233.11,324.64 A67.60,67.60 0 0 1 225.82,317.53" fill="none" stroke="#ffd700" stroke-width="2.0"/><line x1="225.82" y1="317.53" x2="217.38" y2="324.98" stroke="#ffd700" stroke-width="2.0"/><path d="M217.38,324.98 A78.85,78.85 0 0 0 228.08,335.03" fill="none" stroke="#ffd700" stroke-width="2.0"/><line x1="228.08" y1="335.03" x2="179.72" y2="397.18" stroke="#ffd700" stroke-width="2.0"/><path d="M217.38,324.98 A78.85,78.85 0 0 1 208.73,313.11" fill="none" stroke="#ffd700" stroke-width="2.0"/><line x1="208.73" y1="313.11" x2="199.07" y2="318.86" stroke="#ffd700" stroke-width="2.0"/><path d="M199.07,318.86 A90.10,90.10 0 0 0 206.88,329.99" fill="none" stroke="#ffd700" stroke-width="2.0"/><line x1="206.88" y1="329.99" x2="180.80" y2="351.41" stroke="#ffd700" stroke-width="2.0"/><path d="M180.80,351.41 A123.85,123.85 0 0 0 186.87,358.27" fill="none" stroke="#ffd700" stroke-width="2.0"/><line x1="186.87" y1="358.27" x2="178.73" y2="366.03" stroke="#ffd700" stroke-width="2.0"/><path d="M178.73,366.03 A135.10,135.10 0 0 0 183.44,370.74" fill="none" stroke="#ffd700" stroke-width="2.0"/><line x1="183.44" y1="370.74" x2="175.69" y2="378.90" stroke="#ffd700" stroke-width="2.0"/><path d="M175.69,378.90 A146.35,146.35 0 0 0 179.23,382.15" fill="none" stroke="#ffd700" stroke-width="2.0"/><line x1="179.23" y1="382.15" x2="171.76" y2="390.56" stroke="#ffd700" stroke-width="2.0"/><path d="M175.69,378.90 A146.35,146.35 0 0 1 172.26,375.52" fill="none" stroke="#ffd700" stroke-width="2.0"/><line x1="172.26" y1="375.52" x2="164.25" y2="383.42" stroke="#ffd700" stroke-width="2.0"/><path d="M178.73,366.03 A135.10,135.10 0 0 1 174.25,361.10" fill="none" stroke="#ffd700" stroke-width="2.0"/><line x1="174.25" y1="361.10" x2="157.22" y2="375.81" stroke="#ffd700" stroke-width="2.0"/><path d="M180.80,351.41 A123.85,123.85 0 0 1 175.25,344.12" fill="none" stroke="#ffd700" stroke-width="2.0"/><line x1="175.25" y1="344.12" x2="156.86" y2="357.08" stroke="#ffd700" stroke-width="2.0"/><path d="M156.86,357.08 A146.35,146.35 0 0 0 159.69,360.97" fill="none" stroke="#ffd700" stroke-width="2.0"/><line x1="159.69" y1="360.97" x2="150.71" y2="367.75" stroke="#ffd700" stroke-width="2.0"/><path d="M156.86,357.08 A146.35,146.35 0 0 1 154.15,353.10" fill="none" stroke="#ffd700" stroke-width="2.0"/><line x1="154.15" y1="353.10" x2="144.74" y2="359.28" stroke="#ffd700" stroke-width="2.0"/><path d="M199.07,318.86 A90.10,90.10 0 0 1 193.02,306.69" fill="none" stroke="#ffd700" stroke-width="2.0"/><line x1="193.02" y1="306.69" x2="182.59" y2="310.92" stroke="#ffd700" stroke-width="2.0"/><path d="M182.59,310.92 A101.35,101.35 0 0 0 188.30,322.72" fill="none" stroke="#ffd700" stroke-width="2.0"/><line x1="188.30" y1="322.72" x2="139.35" y2="350.43" stroke="#ffd700" stroke-width="2.0"/><path d="M182.59,310.92 A101.35,101.35 0 0 1 178.46,298.48" fill="none" stroke="#ffd700" stroke-width="2.0"/><line x1="178.46" y1="298.48" x2="167.57" y2="301.33" stroke="#ffd700" stroke-width="2.0"/><path d="M167.57,301.33 A112.60,112.60 0 0 0 171.40,313.22" fill="none" stroke="#ffd700" stroke-width="2.0"/><line x1="171.40" y1="313.22" x2="150.40" y2="321.29" stroke="#ffd700" stroke-width="2.0"/><path d="M150.40,321.29 A135.10,135.10 0 0 0 152.95,327.45" fill="none" stroke="#ffd700" stroke-width="2.0"/><line x1="152.95" y1="327.45" x2="142.66" y2="332.00" stroke="#ffd700" stroke-width="2.0"/><path d="M142.66,332.00 A146.35,146.35 0 0 0 144.68,336.37" fill="none" stroke="#ffd700" stroke-width="2.0"/><line x1="144.68" y1="336.37" x2="134.54" y2="341.25" stroke="#ffd700" stroke-width="2.0"/><path d="M142.66,332.00 A146.35,146.35 0 0 1 140.78,327.57" fill="none" stroke="#ffd700" stroke-width="2.0"/><line x1="140.78" y1="327.57" x2="130.35" y2="331.78" stroke="#ffd700" stroke-width="2.0"/><path d="M150.40,321.29 A135.10,135.10 0 0 1 148.17,315.02" fill="none" stroke="#ffd700" stroke-width="2.0"/><line x1="148.17" y1="315.02" x2="126.79" y2="322.05" stroke="#ffd700" stroke-width="2.0"/><path d="M167.57,301.33 A112.60,112.60 0 0 1 165.09,289.10" fill="none" stroke="#ffd700" stroke-width="2.0"/><line x1="165.09" y1="289.10" x2="153.95" y2="290.72" stroke="#ffd700" stroke-width="2.0"/><path d="M153.95,290.72 A123.85,123.85 0 0 0 155.61,299.73" fill="none" stroke="#ffd700" stroke-width="2.0"/><line x1="155.61" y1="299.73" x2="133.65" y2="304.62" stroke="#ffd700" stroke-width="2.0"/><path d="M133.65,304.62 A146.35,146.35 0 0 0 134.78,309.30" fill="none" stroke="#ffd700" stroke-width="2.0"/><line x1="134.78" y1="309.30" x2="123.88" y2="312.11" stroke="#ffd700" stroke-width="2.0"/><path d="M133.65,304.62 A146.35,146.35 0 0 1 132.68,299.91" fill="none" stroke="#ffd700" stroke-width="2.0"/><line x1="132.68" y1="299.91" x2="121.63" y2="302.00" stroke="#ffd700" stroke-width="2.0"/><path d="M153.95,290.72 A123.85,123.85 0 0 1 152.96,281.62" fill="none" stroke="#ffd700" stroke-width="2.0"/><line x1="152.96" y1="281.62" x2="141.74" y2="282.42" stroke="#ffd700" stroke-width="2.0"/><path d="M141.74,282.42 A135.10,135.10 0 0 0 142.38,289.05" fill="none" stroke="#ffd700" stroke-width="2.0"/><line x1="142.38" y1="289.05" x2="120.04" y2="291.76" stroke="#ffd700" stroke-width="2.0"/><path d="M141.74,282.42 A135.10,135.10 0 0 1 141.43,275.77" fill="none" stroke="#ffd700" stroke-width="2.0"/><line x1="141.43" y1="275.77" x2="130.19" y2="276.01" stroke="#ffd700" stroke-width="2.0"/><path d="M130.19,276.01 A146.35,146.35 0 0 0 130.37,280.82" fill="none" stroke="#ffd700" stroke-width="2.0"/><line x1="130.37" y1="280.82" x2="119.14" y2="281.44" stroke="#ffd700" stroke-width="2.0"/><path d="M130.19,276.01 A146.35,146.35 0 0 1 130.16,271.20" fill="none" stroke="#ffd700" stroke-width="2.0"/><line x1="130.16" y1="271.20" x2="118.91" y2="271.08" stroke="#ffd700" stroke-width="2.0"/></g>
<circle cx="268.64" cy="106.85" r="4.75" fill="#6495ed" stroke="#14142a" stroke-width="1.05"/>
<circle cx="279.58" cy="106.74" r="4.75" fill="#dc143c" stroke="#14142a" stroke-width="1.05"/>
<circle cx="290.50" cy="107.35" r="4.75" fill="#6495ed" stroke="#14142a" stroke-width="1.05"/>
<circle cx="301.36" cy="108.68" r="4.75" fill="#dc143c" stroke="#14142a" stroke-width="1.05"/>
<circle cx="312.11" cy="110.71" r="4.75" fill="#dc143c" stroke="#14142a" stroke-width="1.05"/>
<circle cx="322.70" cy="113.45" r="4.75" fill="#dc143c" stroke="#14142a" stroke-width="1.05"/>
<circle cx="333.09" cy="116.87" r="4.75" fill="#dc143c" stroke="#14142a" stroke-width="1.05"/>
<circle cx="343.23" cy="120.97" r="4.75" fill="#dc143c" stroke="#14142a" stroke-width="1.05"/>
<circle cx="353.08" cy="125.73" r="4.75" fill="#dc143c" stroke="#14142a" stroke-width="1.05"/>
<circle cx="362.59" cy="131.13" r="4.75" fill="#6495ed" stroke="#14142a" stroke-width="1.05"/>
<circle cx="371.73" cy="137.14" r="4.75" fill="#dc143c" stroke="#14142a" stroke-width="1.05"/>
<circle cx="380.46" cy="143.74" r="4.75" fill="#6495ed" stroke="#14142a" stroke-width="1.05"/>
<circle cx="388.73" cy="150.89" r="4.75" fill="#dc143c" stroke="#14142a" stroke-width="1.05"/>
<circle cx="396.52" cy="158.58" r="4.75" fill="#6495ed" stroke="#14142a" stroke-width="1.05"/>
<circle cx="403.78" cy="166.75" r="4.75" fill="#6495ed" stroke="#14142a" stroke-width="1.05"/>
<circle cx="410.49" cy="175.39" r="4.75" fill="#dc143c" stroke="#14142a" stroke-width="1.05"/>
<circle cx="416.62" cy="184.45" r="4.75" fill="#dc143c" stroke="#14142a" stroke-width="1.05"/>
<circle cx="422.14" cy="193.90" r="4.75" fill="#dc143c" stroke="#14142a" stroke-width="1.05"/>
<circle cx="427.03" cy="203.68" r="4.75" fill="#dc143c" stroke="#14142a" stroke-width="1.05"/>
<circle cx="431.26" cy="213.77" r="4.75" fill="#dc143c" stroke="#14142a" stroke-width="1.05"/>
<circle cx="434.83" cy="224.11" r="4.75" fill="#dc143c" stroke="#14142a" stroke-width="1.05"/>
<circle cx="437.70" cy="234.67" r="4.75" fill="#dc143c" stroke="#14142a" stroke-width="1.05"/>
<circle cx="442.20" cy="272.52" r="4.75" fill="#dc143c" stroke="#14142a" stroke-width="1.05"/>
<circle cx="441.88" cy="283.45" r="4.75" fill="#dc143c" stroke="#14142a" stroke-width="1.05"/>
<circle cx="440.84" cy="294.34" r="4.75" fill="#6495ed" stroke="#14142a" stroke-width="1.05"/>
<circle cx="439.09" cy="305.14" r="4.75" fill="#6495ed" stroke="#14142a" stroke-width="1.05"/>
<circle cx="436.63" cy="315.80" r="4.75" fill="#dc143c" stroke="#14142a" stroke-width="1.05"/>
<circle cx="433.47" cy="326.28" r="4.75" fill="#dc143c" stroke="#14142a" stroke-width="1.05"/>
<circle cx="429.64" cy="336.52" r="4.75" fill="#dc143c" stroke="#14142a" stroke-width="1.05"/>
<circle cx="425.14" cy="346.49" r="4.75" fill="#6495ed" stroke="#14142a" stroke-width="1.05"/>
<circle cx="420.00" cy="356.14" r="4.75" fill="#6495ed" stroke="#14142a" stroke-width="1.05"/>
<circle cx="414.23" cy="365.44" r="4.75" fill="#dc143c" stroke="#14142a" stroke-width="1.05"/>
<circle cx="407.86" cy="374.33" r="4.75" fill="#6495ed" stroke="#14142a" stroke-width="1.05"/>
<circle cx="400.93" cy="382.79" r="4.75" fill="#dc143c" stroke="#14142a" stroke-width="1.05"/>
<circle cx="393.45" cy="390.78" r="4.75" fill="#dc143c" stroke="#14142a" stroke-width="1.05"/>
<circle cx="385.46" cy="398.25" r="4.75" fill="#dc143c" stroke="#14142a" stroke-width="1.05"/>
<circle cx="377.00" cy="405.19" r="4.75" fill="#6495ed" stroke="#14142a" stroke-width="1.05"/>
<circle cx="368.11" cy="411.55" r="4.75" fill="#6495ed" stroke="#14142a" stroke-width="1.05"/>
<circle cx="358.81" cy="417.32" r="4.75" fill="#dc143c" stroke="#14142a" stroke-width="1.05"/>
<circle cx="349.16" cy="422.46" r="4.75" fill="#dc143c" stroke="#14142a" stroke-width="1.05"/>
<circle cx="339.18" cy="426.96" r="4.75" fill="#6495ed" stroke="#14142a" stroke-width="1.05"/>
<circle cx="328.94" cy="430.79" r="4.75" fill="#6495ed" stroke="#14142a" stroke-width="1.05"/>
<circle cx="318.46" cy="433.94" r="4.75" fill="#6495ed" stroke="#14142a" stroke-width="1.05"/>
<circle cx="307.80" cy="436.39" r="4.75" fill="#6495ed" stroke="#14142a" stroke-width="1.05"/>
<circle cx="297.00" cy="438.14" r="4.75" fill="#dc143c" stroke="#14142a" stroke-width="1.05"/>
<circle cx="286.12" cy="439.18" r="4.75" fill="#dc143c" stroke="#14142a" stroke-width="1.05"/>
<circle cx="275.18" cy="439.50" r="4.75" fill="#6495ed" stroke="#14142a" stroke-width="1.05"/>
<circle cx="264.25" cy="439.10" r="4.75" fill="#dc143c" stroke="#14142a" stroke-width="1.05"/>
<circle cx="253.37" cy="437.98" r="4.75" fill="#6495ed" stroke="#14142a" stroke-width="1.05"/>
<circle cx="242.58" cy="436.15" r="4.75" fill="#dc143c" stroke="#14142a" stroke-width="1.05"/>
<circle cx="231.94" cy="433.62" r="4.75" fill="#dc143c" stroke="#14142a" stroke-width="1.05"/>
<circle cx="221.49" cy="430.39" r="4.75" fill="#6495ed" stroke="#14142a" stroke-width="1.05"/>
<circle cx="211.27" cy="426.48" r="4.75" fill="#6495ed" stroke="#14142a" stroke-width="1.05"/>
<circle cx="201.34" cy="421.91" r="4.75" fill="#6495ed" stroke="#14142a" stroke-width="1.05"/>
<circle cx="191.72" cy="416.69" r="4.75" fill="#dc143c" stroke="#14142a" stroke-width="1.05"/>
<circle cx="182.47" cy="410.86" r="4.75" fill="#dc143c" stroke="#14142a" stroke-width="1.05"/>
<circle cx="173.62" cy="404.43" r="4.75" fill="#dc143c" stroke="#14142a" stroke-width="1.05"/>
<circle cx="165.21" cy="397.43" r="4.75" fill="#dc143c" stroke="#14142a" stroke-width="1.05"/>
<circle cx="157.28" cy="389.90" r="4.75" fill="#dc143c" stroke="#14142a" stroke-width="1.05"/>
<circle cx="149.86" cy="381.86" r="4.75" fill="#6495ed" stroke="#14142a" stroke-width="1.05"/>
<circle cx="142.99" cy="373.35" r="4.75" fill="#6495ed" stroke="#14142a" stroke-width="1.05"/>
<circle cx="136.69" cy="364.41" r="4.75" fill="#dc143c" stroke="#14142a" stroke-width="1.05"/>
<circle cx="130.99" cy="355.07" r="4.75" fill="#dc143c" stroke="#14142a" stroke-width="1.05"/>
<circle cx="125.92" cy="345.38" r="4.75" fill="#dc143c" stroke="#14142a" stroke-width="1.05"/>
<circle cx="121.49" cy="335.37" r="4.75" fill="#dc143c" stroke="#14142a" stroke-width="1.05"/>
<circle cx="117.73" cy="325.10" r="4.75" fill="#dc143c" stroke="#14142a" stroke-width="1.05"/>
<circle cx="114.66" cy="314.60" r="4.75" fill="#6495ed" stroke="#14142a" stroke-width="1.05"/>
<circle cx="112.28" cy="303.93" r="4.75" fill="#6495ed" stroke="#14142a" stroke-width="1.05"/>
<circle cx="110.61" cy="293.11" r="4.75" fill="#6495ed" stroke="#14142a" stroke-width="1.05"/>
<circle cx="109.65" cy="282.22" r="4.75" fill="#6495ed" stroke="#14142a" stroke-width="1.05"/>
<circle cx="109.41" cy="271.28" r="4.75" fill="#dc143c" stroke="#14142a" stroke-width="1.05"/>
<circle cx="109.89" cy="260.35" r="4.75" fill="#dc143c" stroke="#14142a" stroke-width="1.05"/>
<circle cx="111.08" cy="249.48" r="4.75" fill="#dc143c" stroke="#14142a" stroke-width="1.05"/>
<circle cx="112.99" cy="238.71" r="4.75" fill="#6495ed" stroke="#14142a" stroke-width="1.05"/>
<circle cx="115.60" cy="228.09" r="4.75" fill="#dc143c" stroke="#14142a" stroke-width="1.05"/>
<circle cx="118.91" cy="217.66" r="4.75" fill="#dc143c" stroke="#14142a" stroke-width="1.05"/>
<circle cx="122.89" cy="207.47" r="4.75" fill="#6495ed" stroke="#14142a" stroke-width="1.05"/>
<circle cx="127.53" cy="197.57" r="4.75" fill="#dc143c" stroke="#14142a" stroke-width="1.05"/>
<circle cx="132.81" cy="187.99" r="4.75" fill="#dc143c" stroke="#14142a" stroke-width="1.05"/>
<circle cx="138.72" cy="178.78" r="4.75" fill="#dc143c" stroke="#14142a" stroke-width="1.05"/>
<circle cx="145.21" cy="169.97" r="4.75" fill="#dc143c" stroke="#14142a" stroke-width="1.05"/>
<circle cx="152.27" cy="161.62" r="4.75" fill="#6495ed" stroke="#14142a" stroke-width="1.05"/>
<circle cx="159.86" cy="153.74" r="4.75" fill="#6495ed" stroke="#14142a" stroke-width="1.05"/>
<circle cx="167.95" cy="146.38" r="4.75" fill="#dc143c" stroke="#14142a" stroke-width="1.05"/>
<circle cx="176.51" cy="139.57" r="4.75" fill="#dc143c" stroke="#14142a" stroke-width="1.05"/>
<circle cx="185.50" cy="133.33" r="4.75" fill="#dc143c" stroke="#14142a" stroke-width="1.05"/>
<circle cx="194.88" cy="127.70" r="4.75" fill="#dc143c" stroke="#14142a" stroke-width="1.05"/>
<circle cx="204.60" cy="122.70" r="4.75" fill="#6495ed" stroke="#14142a" stroke-width="1.05"/>
<circle cx="214.64" cy="118.35" r="4.75" fill="#dc143c" stroke="#14142a" stroke-width="1.05"/>
<circle cx="224.94" cy="114.66" r="4.75" fill="#6495ed" stroke="#14142a" stroke-width="1.05"/>
<circle cx="235.46" cy="111.66" r="4.75" fill="#dc143c" stroke="#14142a" stroke-width="1.05"/>
<circle cx="246.15" cy="109.36" r="4.75" fill="#dc143c" stroke="#14142a" stroke-width="1.05"/>
<circle cx="256.98" cy="107.77" r="4.75" fill="#6495ed" stroke="#14142a" stroke-width="1.05"/>
<g font-family="Liberation Serif, serif" fill="#000" stroke="#000" stroke-width="0.55">
<text transform="translate(270.20 78.10) rotate(447.54) scale(1.01 1)" text-anchor="middle" dy="0.34em" font-size="8.3">BvZFP1</text>
<text transform="translate(283.90 72.10) rotate(-88.70) scale(1.01 1)" text-anchor="middle" dy="0.34em" font-size="8.3">AT1G02040</text>
<text transform="translate(294.90 76.80) rotate(-84.93) scale(1.01 1)" text-anchor="middle" dy="0.34em" font-size="8.3">BvZFP27</text>
<text transform="translate(308.10 74.30) rotate(-81.16) scale(1.01 1)" text-anchor="middle" dy="0.34em" font-size="8.3">AT3G53600</text>
<text transform="translate(321.40 76.00) rotate(-77.40) scale(1.01 1)" text-anchor="middle" dy="0.34em" font-size="8.3">AT3G46090</text>
<text transform="translate(333.80 78.70) rotate(-73.63) scale(1.01 1)" text-anchor="middle" dy="0.34em" font-size="8.3">AT3G46080</text>
<text transform="translate(346.60 83.00) rotate(-69.86) scale(1.01 1)" text-anchor="middle" dy="0.34em" font-size="8.3">AT3G46070</text>
<text transform="translate(359.20 88.10) rotate(-66.09) scale(1.01 1)" text-anchor="middle" dy="0.34em" font-size="8.3">AT2G28710</text>
<text transform="translate(370.70 93.20) rotate(-62.33) scale(1.01 1)" text-anchor="middle" dy="0.34em" font-size="8.3">AT5G59820</text>
<text transform="translate(378.60 104.20) rotate(-58.56) scale(1.01 1)" text-anchor="middle" dy="0.34em" font-size="8.3">BvZFP28</text>
<text transform="translate(393.50 109.20) rotate(-54.79) scale(1.01 1)" text-anchor="middle" dy="0.34em" font-size="8.3">AT2G37430</text>
<text transform="translate(398.90 123.90) rotate(-51.03) scale(1.01 1)" text-anchor="middle" dy="0.34em" font-size="8.3">BvZFP6</text>
<text transform="translate(413.50 127.50) rotate(-47.26) scale(1.01 1)" text-anchor="middle" dy="0.34em" font-size="8.3">AT2G28200</text>
<text transform="translate(418.60 138.70) rotate(-43.49) scale(1.01 1)" text-anchor="middle" dy="0.34em" font-size="8.3">BvZFP34</text>
<text transform="translate(424.60 149.10) rotate(-39.72) scale(1.01 1)" text-anchor="middle" dy="0.34em" font-size="8.3">BvZFP3</text>
<text transform="translate(439.00 155.90) rotate(-35.96) scale(1.01 1)" text-anchor="middle" dy="0.34em" font-size="8.3">AT5G03510</text>
<text transform="translate(447.20 166.50) rotate(-32.19) scale(1.01 1)" text-anchor="middle" dy="0.34em" font-size="8.3">AT3G10470</text>
<text transform="translate(452.90 178.10) rotate(-28.42) scale(1.01 1)" text-anchor="middle" dy="0.34em" font-size="8.3">AT5G04390</text>
<text transform="translate(456.40 189.80) rotate(-24.66) scale(1.01 1)" text-anchor="middle" dy="0.34em" font-size="8.3">At3G29340</text>
<text transform="translate(461.30 204.20) rotate(-20.89) scale(1.01 1)" text-anchor="middle" dy="0.34em" font-size="8.3">At1G49900</text>
<text transform="translate(465.40 216.40) rotate(-17.12) scale(1.01 1)" text-anchor="middle" dy="0.34em" font-size="8.3">At1G26610</text>
<text transform="translate(468.70 229.00) rotate(-13.35) scale(1.01 1)" text-anchor="middle" dy="0.34em" font-size="8.3">At1G26590</text>
<text transform="translate(474.75 273.75) rotate(-0.20) scale(1.01 1)" text-anchor="middle" dy="0.34em" font-size="8.3">At1G80730</text>
<text transform="translate(473.40 287.80) rotate(3.57) scale(1.01 1)" text-anchor="middle" dy="0.34em" font-size="8.3">At1G66140</text>
<text transform="translate(468.50 299.70) rotate(7.33) scale(1.01 1)" text-anchor="middle" dy="0.34em" font-size="8.3">BvZFP32</text>
<text transform="translate(464.05 311.75) rotate(11.10) scale(1.01 1)" text-anchor="middle" dy="0.34em" font-size="8.3">BvZFP7</text>
<text transform="translate(466.70 326.50) rotate(14.87) scale(1.01 1)" text-anchor="middle" dy="0.34em" font-size="8.3">At5G57520</text>
<text transform="translate(463.60 338.30) rotate(18.64) scale(1.01 1)" text-anchor="middle" dy="0.34em" font-size="8.3">At5G25160</text>
<text transform="translate(458.10 349.30) rotate(22.40) scale(1.01 1)" text-anchor="middle" dy="0.34em" font-size="8.3">At5G10970</text>
<text transform="translate(449.50 361.00) rotate(26.17) scale(1.01 1)" text-anchor="middle" dy="0.34em" font-size="8.3">BvZFP33</text>
<text transform="translate(443.50 372.90) rotate(29.94) scale(1.01 1)" text-anchor="middle" dy="0.34em" font-size="8.3">BvZFP14</text>
<text transform="translate(438.30 386.30) rotate(33.71) scale(1.01 1)" text-anchor="middle" dy="0.34em" font-size="8.3">At5G14010</text>
<text transform="translate(428.10 394.00) rotate(37.47) scale(1.01 1)" text-anchor="middle" dy="0.34em" font-size="8.3">BvZFP12</text>
<text transform="translate(424.60 408.10) rotate(41.24) scale(1.01 1)" text-anchor="middle" dy="0.34em" font-size="8.3">At5G06650</text>
<text transform="translate(416.70 416.00) rotate(45.01) scale(1.01 1)" text-anchor="middle" dy="0.34em" font-size="8.3">At3G58070</text>
<text transform="translate(406.00 423.40) rotate(48.77) scale(1.01 1)" text-anchor="middle" dy="0.34em" font-size="8.3">At2G41940</text>
<text transform="translate(393.50 428.20) rotate(52.54) scale(1.01 1)" text-anchor="middle" dy="0.34em" font-size="8.3">BvZFP23</text>
<text transform="translate(383.00 435.20) rotate(56.31) scale(1.01 1)" text-anchor="middle" dy="0.34em" font-size="8.3">BvZFP29</text>
<text transform="translate(373.50 445.60) rotate(60.08) scale(1.01 1)" text-anchor="middle" dy="0.34em" font-size="8.3">At5G48890</text>
<text transform="translate(360.90 452.60) rotate(63.84) scale(1.01 1)" text-anchor="middle" dy="0.34em" font-size="8.3">At5G05120</text>
<text transform="translate(348.60 454.00) rotate(67.61) scale(1.01 1)" text-anchor="middle" dy="0.34em" font-size="8.3">BvZFP24</text>
<text transform="translate(334.60 458.50) rotate(71.38) scale(1.01 1)" text-anchor="middle" dy="0.34em" font-size="8.3">BvZFP26</text>
<text transform="translate(323.10 462.40) rotate(75.14) scale(1.01 1)" text-anchor="middle" dy="0.34em" font-size="8.3">BvZFP25</text>
<text transform="translate(311.60 464.80) rotate(78.91) scale(1.01 1)" text-anchor="middle" dy="0.34em" font-size="8.3">BvZFP19</text>
<text transform="translate(298.40 470.80) rotate(82.68) scale(1.01 1)" text-anchor="middle" dy="0.34em" font-size="8.3">At1G10480</text>
<text transform="translate(286.40 472.80) rotate(86.45) scale(1.01 1)" text-anchor="middle" dy="0.34em" font-size="8.3">At1G68360</text>
<text transform="translate(275.50 468.30) rotate(270.21) scale(1.01 1)" text-anchor="middle" dy="0.34em" font-size="8.3">BvZFP20</text>
<text transform="translate(262.70 475.00) rotate(273.98) scale(1.01 1)" text-anchor="middle" dy="0.34em" font-size="8.3">At1G67030</text>
<text transform="translate(250.60 468.90) rotate(277.75) scale(1.01 1)" text-anchor="middle" dy="0.34em" font-size="8.3">BvZFP13</text>
<text transform="translate(237.80 469.10) rotate(281.51) scale(1.01 1)" text-anchor="middle" dy="0.34em" font-size="8.3">At5G27880</text>
<text transform="translate(226.30 466.40) rotate(285.28) scale(1.01 1)" text-anchor="middle" dy="0.34em" font-size="8.3">At5G01860</text>
<text transform="translate(215.70 457.10) rotate(289.05) scale(1.01 1)" text-anchor="middle" dy="0.34em" font-size="8.3">BvZFP4</text>
<text transform="translate(203.80 455.70) rotate(292.82) scale(1.01 1)" text-anchor="middle" dy="0.34em" font-size="8.3">BvZFP10</text>
<text transform="translate(192.30 451.60) rotate(296.58) scale(1.01 1)" text-anchor="middle" dy="0.34em" font-size="8.3">BvZFP21</text>
<text transform="translate(177.60 449.10) rotate(300.35) scale(1.01 1)" text-anchor="middle" dy="0.34em" font-size="8.3">At1G68480</text>
<text transform="translate(166.50 442.50) rotate(304.12) scale(1.01 1)" text-anchor="middle" dy="0.34em" font-size="8.3">At1G13400</text>
<text transform="translate(155.90 435.70) rotate(307.89) scale(1.01 1)" text-anchor="middle" dy="0.34em" font-size="8.3">At3G23140</text>
<text transform="translate(144.90 426.40) rotate(311.65) scale(1.01 1)" text-anchor="middle" dy="0.34em" font-size="8.3">At5G43540</text>
<text transform="translate(135.90 416.80) rotate(315.42) scale(1.01 1)" text-anchor="middle" dy="0.34em" font-size="8.3">At3G09290</text>
<text transform="translate(128.10 406.20) rotate(319.19) scale(1.01 1)" text-anchor="middle" dy="0.34em" font-size="8.3">BvZFP16</text>
<text transform="translate(121.40 394.40) rotate(322.95) scale(1.01 1)" text-anchor="middle" dy="0.34em" font-size="8.3">BvZFP9</text>
<text transform="translate(111.20 387.70) rotate(326.72) scale(1.01 1)" text-anchor="middle" dy="0.34em" font-size="8.3">At3G53820</text>
<text transform="translate(102.50 375.30) rotate(330.49) scale(1.01 1)" text-anchor="middle" dy="0.34em" font-size="8.3">At5G06070</text>
<text transform="translate(96.00 363.60) rotate(334.26) scale(1.01 1)" text-anchor="middle" dy="0.34em" font-size="8.3">At2G42410</text>
<text transform="translate(90.20 352.50) rotate(338.02) scale(1.01 1)" text-anchor="middle" dy="0.34em" font-size="8.3">At2G37740</text>
<text transform="translate(86.60 339.90) rotate(341.79) scale(1.01 1)" text-anchor="middle" dy="0.34em" font-size="8.3">At4G17810</text>
<text transform="translate(86.90 325.00) rotate(345.56) scale(1.01 1)" text-anchor="middle" dy="0.34em" font-size="8.3">BvZFP8</text>
<text transform="translate(82.00 311.80) rotate(349.32) scale(1.01 1)" text-anchor="middle" dy="0.34em" font-size="8.3">BvZFP35</text>
<text transform="translate(79.20 299.20) rotate(353.09) scale(1.01 1)" text-anchor="middle" dy="0.34em" font-size="8.3">BvZFP18</text>
<text transform="translate(78.90 287.00) rotate(356.86) scale(1.01 1)" text-anchor="middle" dy="0.34em" font-size="8.3">BvZFP11</text>
<text transform="translate(72.60 273.90) rotate(360.63) scale(1.01 1)" text-anchor="middle" dy="0.34em" font-size="8.3">At3G23130</text>
<text transform="translate(72.60 260.60) rotate(364.39) scale(1.01 1)" text-anchor="middle" dy="0.34em" font-size="8.3">At4G04404</text>
<text transform="translate(75.10 247.90) rotate(368.16) scale(1.01 1)" text-anchor="middle" dy="0.34em" font-size="8.3">At5G15480</text>
<text transform="translate(81.80 236.10) rotate(371.93) scale(1.01 1)" text-anchor="middle" dy="0.34em" font-size="8.3">BvZFP5</text>
<text transform="translate(79.30 222.30) rotate(375.69) scale(1.01 1)" text-anchor="middle" dy="0.34em" font-size="8.3">AT5G04340</text>
<text transform="translate(81.60 208.70) rotate(379.46) scale(1.01 1)" text-anchor="middle" dy="0.34em" font-size="8.3">AT1G27730</text>
<text transform="translate(90.30 197.50) rotate(383.23) scale(1.01 1)" text-anchor="middle" dy="0.34em" font-size="8.3">BvZFP30</text>
<text transform="translate(92.40 183.90) rotate(387.00) scale(1.01 1)" text-anchor="middle" dy="0.34em" font-size="8.3">AT5G43170</text>
<text transform="translate(98.20 171.90) rotate(390.76) scale(1.01 1)" text-anchor="middle" dy="0.34em" font-size="8.3">AT3G19580</text>
<text transform="translate(105.50 159.80) rotate(394.53) scale(1.01 1)" text-anchor="middle" dy="0.34em" font-size="8.3">AT5G67450</text>
<text transform="translate(114.70 149.40) rotate(398.30) scale(1.01 1)" text-anchor="middle" dy="0.34em" font-size="8.3">AT3G49930</text>
<text transform="translate(128.10 140.80) rotate(402.07) scale(1.01 1)" text-anchor="middle" dy="0.34em" font-size="8.3">BvZFP22</text>
<text transform="translate(137.40 131.50) rotate(405.83) scale(1.01 1)" text-anchor="middle" dy="0.34em" font-size="8.3">BvZFP15</text>
<text transform="translate(145.80 120.10) rotate(409.60) scale(1.01 1)" text-anchor="middle" dy="0.34em" font-size="8.3">At5G56200</text>
<text transform="translate(154.30 112.10) rotate(413.37) scale(1.01 1)" text-anchor="middle" dy="0.34em" font-size="8.3">At2G45120</text>
<text transform="translate(165.30 105.70) rotate(417.13) scale(1.01 1)" text-anchor="middle" dy="0.34em" font-size="8.3">At3G60580</text>
<text transform="translate(175.70 96.90) rotate(420.90) scale(1.01 1)" text-anchor="middle" dy="0.34em" font-size="8.3">AT1G02030</text>
<text transform="translate(191.30 96.90) rotate(424.67) scale(1.01 1)" text-anchor="middle" dy="0.34em" font-size="8.3">BvZFP2</text>
<text transform="translate(203.80 86.40) rotate(428.44) scale(1.01 1)" text-anchor="middle" dy="0.34em" font-size="8.3">At5G61470</text>
<text transform="translate(215.80 84.00) rotate(432.20) scale(1.01 1)" text-anchor="middle" dy="0.34em" font-size="8.3">BvZFP17</text>
<text transform="translate(227.90 76.90) rotate(435.97) scale(1.01 1)" text-anchor="middle" dy="0.34em" font-size="8.3">At2G17180</text>
<text transform="translate(241.00 74.40) rotate(439.74) scale(1.01 1)" text-anchor="middle" dy="0.34em" font-size="8.3">At4G35280</text>
<text transform="translate(257.00 76.10) rotate(443.50) scale(1.01 1)" text-anchor="middle" dy="0.34em" font-size="8.3">BvZFP31</text>
<text transform="translate(317.70 33.00) rotate(-79.85) scale(1.01 1)" text-anchor="middle" dy="0.34em" font-size="8.3">ZAT18</text>
<text transform="translate(332.30 37.40) rotate(-76.25) scale(1.01 1)" text-anchor="middle" dy="0.34em" font-size="8.3">ZAT7</text>
<text transform="translate(348.20 41.20) rotate(-72.37) scale(1.01 1)" text-anchor="middle" dy="0.34em" font-size="8.3">ZAT8</text>
<text transform="translate(363.60 44.30) rotate(-68.70) scale(1.01 1)" text-anchor="middle" dy="0.34em" font-size="8.3">ZAT16</text>
<text transform="translate(378.10 50.50) rotate(-65.00) scale(1.01 1)" text-anchor="middle" dy="0.34em" font-size="8.3">ZAT17</text>
<text transform="translate(391.80 59.20) rotate(-61.19) scale(1.01 1)" text-anchor="middle" dy="0.34em" font-size="8.3">ZAT12</text>
<text transform="translate(420.40 77.10) rotate(-53.22) scale(1.01 1)" text-anchor="middle" dy="0.34em" font-size="8.3">ZAT11</text>
<text transform="translate(443.20 99.00) rotate(-45.74) scale(1.01 1)" text-anchor="middle" dy="0.34em" font-size="8.3">ZAT5</text>
<text transform="translate(476.30 132.90) rotate(-34.57) scale(1.01 1)" text-anchor="middle" dy="0.34em" font-size="8.3">ZAT14</text>
<text transform="translate(484.50 146.90) rotate(-30.76) scale(1.01 1)" text-anchor="middle" dy="0.34em" font-size="8.3">ZAT15</text>
<text transform="translate(493.80 161.00) rotate(-26.82) scale(1.01 1)" text-anchor="middle" dy="0.34em" font-size="8.3">ZAT14L</text>
<text transform="translate(514.40 278.40) rotate(1.63) scale(1.01 1)" text-anchor="middle" dy="0.34em" font-size="8.3">ZFP1</text>
<text transform="translate(513.40 293.40) rotate(5.22) scale(1.01 1)" text-anchor="middle" dy="0.34em" font-size="8.3">ZFP4</text>
<text transform="translate(504.40 339.40) rotate(16.47) scale(1.01 1)" text-anchor="middle" dy="0.34em" font-size="8.3">ZFP2</text>
<text transform="translate(500.00 354.00) rotate(20.11) scale(1.01 1)" text-anchor="middle" dy="0.34em" font-size="8.3">ZFP3</text>
<text transform="translate(470.20 410.40) rotate(35.42) scale(1.01 1)" text-anchor="middle" dy="0.34em" font-size="8.3">KNU</text>
<text transform="translate(451.80 434.60) rotate(42.67) scale(1.01 1)" text-anchor="middle" dy="0.34em" font-size="8.3">GIS2</text>
<text transform="translate(440.90 444.00) rotate(46.10) scale(1.01 1)" text-anchor="middle" dy="0.34em" font-size="8.3">GIS</text>
<text transform="translate(429.00 455.20) rotate(50.01) scale(1.01 1)" text-anchor="middle" dy="0.34em" font-size="8.3">ZFP8</text>
<text transform="translate(391.20 482.60) rotate(61.16) scale(1.01 1)" text-anchor="middle" dy="0.34em" font-size="8.3">LATE</text>
<text transform="translate(300.10 511.10) rotate(84.02) scale(1.01 1)" text-anchor="middle" dy="0.34em" font-size="8.3">ZFP5</text>
<text transform="translate(284.70 510.30) rotate(87.67) scale(1.01 1)" text-anchor="middle" dy="0.34em" font-size="8.3">GIS3</text>
<text transform="translate(260.10 510.90) rotate(273.56) scale(1.01 1)" text-anchor="middle" dy="0.34em" font-size="8.3">ZFP6</text>
<text transform="translate(146.10 475.90) rotate(302.25) scale(1.01 1)" text-anchor="middle" dy="0.34em" font-size="8.3">JGL</text>
<text transform="translate(132.20 468.10) rotate(306.01) scale(1.01 1)" text-anchor="middle" dy="0.34em" font-size="8.3">URO</text>
<text transform="translate(107.10 447.40) rotate(313.68) scale(1.01 1)" text-anchor="middle" dy="0.34em" font-size="8.3">TAC1</text>
<text transform="translate(70.30 396.10) rotate(328.69) scale(1.01 1)" text-anchor="middle" dy="0.34em" font-size="8.3">RBE</text>
<text transform="translate(59.60 383.60) rotate(332.53) scale(1.01 1)" text-anchor="middle" dy="0.34em" font-size="8.3">ZFP11</text>
<text transform="translate(53.60 369.60) rotate(336.12) scale(1.01 1)" text-anchor="middle" dy="0.34em" font-size="8.3">ZFP10</text>
<text transform="translate(51.10 354.00) rotate(339.80) scale(1.01 1)" text-anchor="middle" dy="0.34em" font-size="8.3">ZP1</text>
<text transform="translate(37.90 275.50) rotate(359.06) scale(1.01 1)" text-anchor="middle" dy="0.34em" font-size="8.3">SUP</text>
<text transform="translate(34.60 244.90) rotate(366.34) scale(1.01 1)" text-anchor="middle" dy="0.34em" font-size="8.3">MAZ1</text>
<text transform="translate(41.60 213.40) rotate(374.00) scale(1.01 1)" text-anchor="middle" dy="0.34em" font-size="8.3">ZAT6</text>
<text transform="translate(43.00 197.00) rotate(377.83) scale(1.01 1)" text-anchor="middle" dy="0.34em" font-size="8.3">ZAT10</text>
<text transform="translate(57.80 168.20) rotate(385.46) scale(1.01 1)" text-anchor="middle" dy="0.34em" font-size="8.3">AZF3</text>
<text transform="translate(64.80 154.20) rotate(389.18) scale(1.01 1)" text-anchor="middle" dy="0.34em" font-size="8.3">AZF2</text>
<text transform="translate(72.70 139.60) rotate(393.12) scale(1.01 1)" text-anchor="middle" dy="0.34em" font-size="8.3">AZF1</text>
<text transform="translate(81.00 125.90) rotate(396.91) scale(1.01 1)" text-anchor="middle" dy="0.34em" font-size="8.3">ZAT13</text>
<text transform="translate(129.40 81.10) rotate(412.61) scale(1.01 1)" text-anchor="middle" dy="0.34em" font-size="8.3">ZAT4</text>
<text transform="translate(141.20 70.20) rotate(416.40) scale(1.01 1)" text-anchor="middle" dy="0.34em" font-size="8.3">ZAT9</text>
<text transform="translate(155.70 63.80) rotate(420.14) scale(1.01 1)" text-anchor="middle" dy="0.34em" font-size="8.3">ZAT1</text>
<text transform="translate(218.40 36.00) rotate(436.49) scale(1.01 1)" text-anchor="middle" dy="0.34em" font-size="8.3">DAZ1</text>
<text transform="translate(232.60 33.40) rotate(439.91) scale(1.01 1)" text-anchor="middle" dy="0.34em" font-size="8.3">DAZ2</text>
</g>
<text transform="translate(172.95 19.10) rotate(338.60)" text-anchor="middle" dy="0.34em" font-family="Liberation Serif, serif" font-weight="bold" font-size="10" stroke="#000" stroke-width="0.35">C1-QM-B</text>
<text transform="translate(448.87 60.84) rotate(39.10)" text-anchor="middle" dy="0.34em" font-family="Liberation Serif, serif" font-weight="bold" font-size="10" stroke="#000" stroke-width="0.35">C1-2Q</text>
<text transform="translate(533.86 182.50) rotate(70.20)" text-anchor="middle" dy="0.34em" font-family="Liberation Serif, serif" font-weight="bold" font-size="10" stroke="#000" stroke-width="0.35">C1-QM-C</text>
<text transform="translate(437.46 499.20) rotate(-36.30)" text-anchor="middle" dy="0.34em" font-family="Liberation Serif, serif" font-weight="bold" font-size="10" stroke="#000" stroke-width="0.35">C1-1Q-A</text>
<text transform="translate(40.70 425.70) rotate(57.20)" text-anchor="middle" dy="0.34em" font-family="Liberation Serif, serif" font-weight="bold" font-size="10" stroke="#000" stroke-width="0.35">C1-1Q-B</text>
<text transform="translate(24.70 156.20) rotate(295.60)" text-anchor="middle" dy="0.34em" font-family="Liberation Serif, serif" font-weight="bold" font-size="10" stroke="#000" stroke-width="0.35">C1-QM-A</text>
</svg></body></html>
